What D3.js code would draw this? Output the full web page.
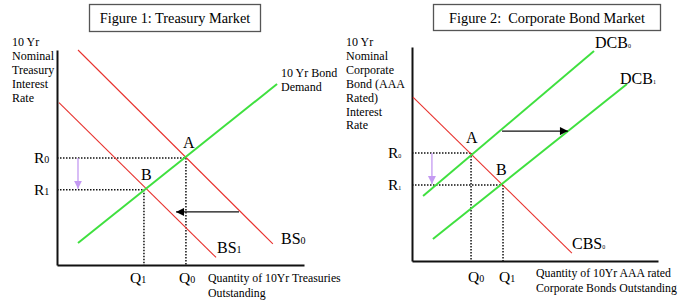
<!DOCTYPE html>
<html><head><meta charset="utf-8">
<script src="https://cdn.jsdelivr.net/npm/d3@7"></script>
<style>
html,body{margin:0;padding:0;background:#fff;}
svg{display:block;}
text{font-family:"Liberation Serif","Times New Roman",serif;fill:#000;}
</style></head>
<body>
<svg id="c" width="681" height="303"></svg>
<script>
// ---------- DATA (axis units 0..100) ----------
// Figure 1: Treasury market
const f1Title = "Figure 1: Treasury Market";
const f1YLabel = ["10 Yr", "Nominal", "Treasury", "Interest", "Rate"];
const f1XLabel = ["Quantity of 10Yr Treasuries", "Outstanding"];
const f1Demand = [[8.5, 10.2], [89.1, 84.2]];
const f1BS0 = [[8.5, 100], [87.4, 9.8]];
const f1BS1 = [[0.8, 75.5], [64.4, 3.5]];
const f1Rates = {R0: 49.8, R1: 35.0};
const f1Qty = {Q0: 52.2, Q1: 35.2};
const f1Shift = [[73.7, 24.7], [48.2, 24.7]];
const f1RateArrowX = 8.5;

// Figure 2: Corporate bond market
const f2Title = "Figure 2:  Corporate Bond Market";
const f2YLabel = ["10 Yr", "Nominal", "Corporate", "Bond (AAA", "Rated)", "Interest", "Rate"];
const f2XLabel = ["Quantity of 10Yr AAA rated", "Corporate Bonds Outstanding"];
const f2DCB0 = [[4.5, 30.4], [74.0, 98.1]];
const f2DCB1 = [[8.5, 10.3], [87.4, 82.7]];
const f2CBS0 = [[0.4, 76.6], [65.0, 3.7]];
const f2Rates = {R0: 50.5, R1: 35.5};
const f2Qty = {Q0: 24.0, Q1: 37.0};
const f2Shift = [[36.6, 60.7], [63.4, 60.7]];
const f2RateArrowX = 8.1;

// ---------- DRAWING ----------
const svg = d3.select("#c");
const defs = svg.append("defs");
function marker(id, color, w, h) {
  defs.append("marker").attr("id", id).attr("viewBox", "0 0 10 10")
    .attr("refX", 10).attr("refY", 5).attr("markerWidth", w).attr("markerHeight", h)
    .attr("markerUnits", "userSpaceOnUse").attr("orient", "auto")
    .append("path").attr("d", "M0,0L10,5L0,10Z").attr("fill", color);
}
marker("ab", "#000", 11, 8);
marker("ap", "#c49af2", 8, 9);

const RED = "#e8322e", GREEN = "#3fe03f";

function panel(cfg) {
  const x = d3.scaleLinear().domain([0, 100]).range([cfg.x0, cfg.x1]);
  const y = d3.scaleLinear().domain([0, 100]).range([cfg.y0, cfg.y1]);
  const g = svg.append("g");
  const line = d3.line().x(d => x(d[0])).y(d => y(d[1]));

  // title box
  g.append("rect").attr("x", cfg.box[0] + 0.5).attr("y", cfg.box[1] + 0.5)
    .attr("width", cfg.box[2]).attr("height", cfg.box[3])
    .attr("fill", "#fff").attr("stroke", "#555").attr("stroke-width", 1.3);
  g.append("text").attr("x", cfg.box[0] + cfg.box[2] / 2 + 0.5).attr("y", cfg.box[1] + cfg.box[3] / 2 + 5.5)
    .attr("text-anchor", "middle").style("font-size", "14.3px").style("white-space", "pre")
    .text(cfg.title);

  // axes (no ticks)
  const xAxis = d3.axisBottom(x).tickValues([]).tickSizeOuter(0);
  const yAxis = d3.axisLeft(y).tickValues([]).tickSizeOuter(0);
  const ax = g.append("g").attr("transform", `translate(0,${cfg.y0})`).call(xAxis);
  const ay = g.append("g").attr("transform", `translate(${cfg.x0},0)`).call(yAxis);
  [ax, ay].forEach(a => a.select(".domain").attr("stroke", "#111").attr("stroke-width", 2));

  // y label
  const yl = g.append("text").style("font-size", "12px");
  cfg.yLabel.forEach((t, i) => yl.append("tspan").attr("x", cfg.yLabelX).attr("y", cfg.yLabelY + i * 13.9).text(t));
  // x label
  const xl = g.append("text").style("font-size", "11.8px");
  cfg.xLabel.forEach((t, i) => xl.append("tspan").attr("x", cfg.xLabelX).attr("y", cfg.xLabelY + i * 14.5).text(t));

  // dotted guides
  const dot = {stroke: "#111", "stroke-width": 1.5, "stroke-dasharray": "1.5,1.5"};
  function dl(x1, y1, x2, y2) {
    const l = g.append("line").attr("x1", x1).attr("y1", y1).attr("x2", x2).attr("y2", y2);
    Object.entries(dot).forEach(([k, v]) => l.attr(k, v));
  }
  const pts = [[cfg.qty.Q0, cfg.rates.R0], [cfg.qty.Q1, cfg.rates.R1]];
  pts.forEach(p => {
    dl(x(0), y(p[1]), x(p[0]), y(p[1]));
    dl(x(p[0]), y(p[1]), x(p[0]), y(0));
  });

  // curves
  cfg.curves.forEach(c => {
    g.append("path").datum(c.d).attr("d", line).attr("fill", "none")
      .attr("stroke", c.color).attr("stroke-width", c.color === GREEN ? 2 : 1.1);
  });

  // rate drop arrow (purple)
  g.append("line").attr("x1", x(cfg.rateArrowX)).attr("x2", x(cfg.rateArrowX))
    .attr("y1", y(cfg.rates.R0)).attr("y2", y(cfg.rates.R1) - 1)
    .attr("stroke", "#c49af2").attr("stroke-width", 1.3).attr("marker-end", "url(#ap)");
  // shift arrow (black)
  g.append("line").attr("x1", x(cfg.shift[0][0])).attr("y1", y(cfg.shift[0][1]))
    .attr("x2", x(cfg.shift[1][0])).attr("y2", y(cfg.shift[1][1]))
    .attr("stroke", "#111").attr("stroke-width", 1.3).attr("marker-end", "url(#ab)");

  // labels with subscripts
  cfg.labels.forEach(L => {
    const t = g.append("text").attr("x", L.x).attr("y", L.y).style("font-size", L.fs + "px");
    t.append("tspan").text(L.t);
    if (L.sub) t.append("tspan").style("font-size", L.ss + "px").attr("dy", L.sdy || 0).text(L.sub);
  });
}

panel({
  x0: 57, x1: 304, y0: 265, y1: 50,
  box: [89, 4, 171, 27], title: f1Title,
  yLabel: f1YLabel, yLabelX: 12, yLabelY: 46,
  xLabel: f1XLabel, xLabelX: 208, xLabelY: 282,
  rates: f1Rates, qty: f1Qty, shift: f1Shift, rateArrowX: f1RateArrowX,
  curves: [{d: f1BS0, color: RED}, {d: f1BS1, color: RED}, {d: f1Demand, color: GREEN}],
  labels: [
    {t: "10 Yr Bond", x: 281, y: 77, fs: 12},
    {t: "Demand", x: 281, y: 91, fs: 12},
    {t: "A", x: 183, y: 148, fs: 16},
    {t: "B", x: 141, y: 180, fs: 16},
    {t: "R", x: 34, y: 163, fs: 15.5, sub: "0", ss: 10},
    {t: "R", x: 34, y: 195, fs: 15.5, sub: "1", ss: 10},
    {t: "Q", x: 130, y: 283, fs: 15.5, sub: "1", ss: 10},
    {t: "Q", x: 179, y: 283, fs: 15.5, sub: "0", ss: 10},
    {t: "BS", x: 281, y: 244, fs: 16, sub: "0", ss: 10},
    {t: "BS", x: 217, y: 253, fs: 16, sub: "1", ss: 10}
  ]
});

panel({
  x0: 412, x1: 658, y0: 261, y1: 47,
  box: [433, 4, 227, 26], title: f2Title,
  yLabel: f2YLabel, yLabelX: 346, yLabelY: 46,
  xLabel: f2XLabel, xLabelX: 536, xLabelY: 277,
  rates: f2Rates, qty: f2Qty, shift: f2Shift, rateArrowX: f2RateArrowX,
  curves: [{d: f2CBS0, color: RED}, {d: f2DCB0, color: GREEN}, {d: f2DCB1, color: GREEN}],
  labels: [
    {t: "A", x: 466, y: 143, fs: 16},
    {t: "B", x: 496, y: 175, fs: 16},
    {t: "R", x: 388, y: 158, fs: 15.5, sub: "0", ss: 6},
    {t: "R", x: 388, y: 190, fs: 15.5, sub: "1", ss: 6},
    {t: "Q", x: 468, y: 282, fs: 15.5, sub: "0", ss: 10},
    {t: "Q", x: 499, y: 282, fs: 15.5, sub: "1", ss: 10},
    {t: "DCB", x: 595, y: 48, fs: 16, sub: "0", ss: 6},
    {t: "DCB", x: 620, y: 84, fs: 16, sub: "1", ss: 6},
    {t: "CBS", x: 572, y: 249, fs: 16, sub: "0", ss: 6}
  ]
});
</script>
</body></html>
